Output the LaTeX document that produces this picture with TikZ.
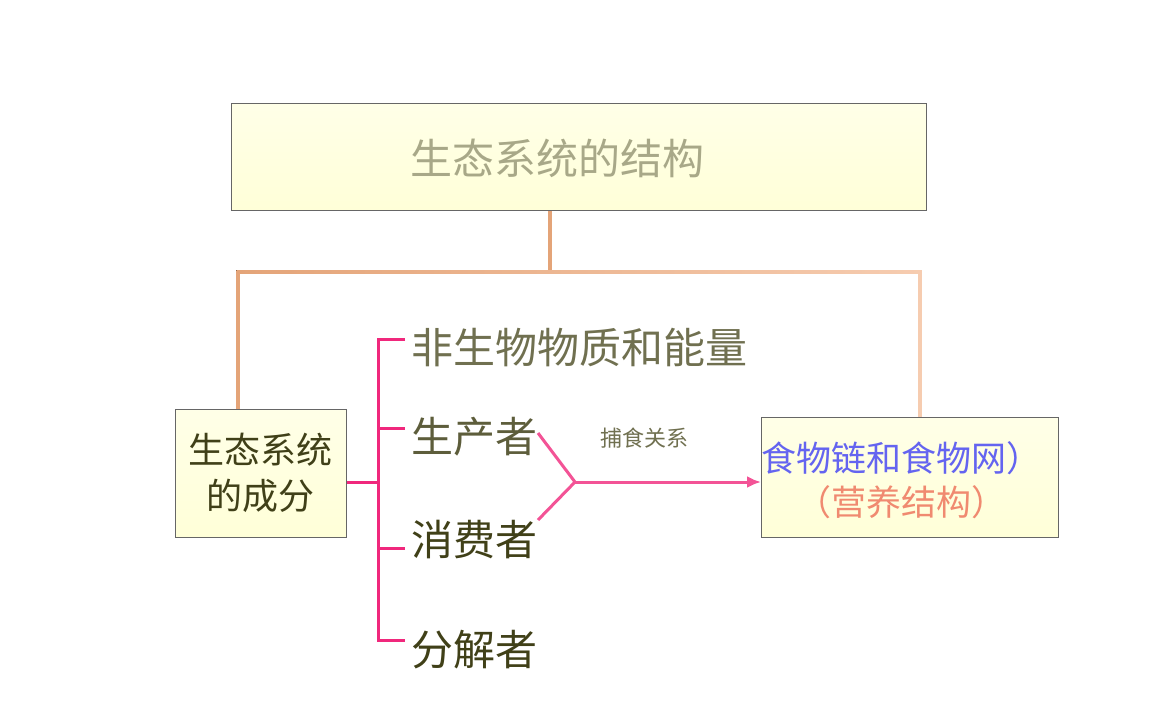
\documentclass[tikz,border=0pt]{standalone}
\usetikzlibrary{arrows.meta}
\usepackage{fontspec}
\newfontfamily\cjk{Noto Sans CJK SC}
\definecolor{boxfill}{HTML}{FFFFD8}
\definecolor{titlec}{HTML}{A8A888}
\definecolor{olive}{HTML}{404018}
\definecolor{olivel}{HTML}{707050}
\definecolor{orl}{HTML}{E4A478}
\definecolor{orr}{HTML}{F6CCB0}
\definecolor{pinkc}{HTML}{F0287C}
\definecolor{bluec}{HTML}{6464F0}
\definecolor{salm}{HTML}{F08A70}
\begin{document}
\begin{tikzpicture}[x=1pt,y=-1pt,
  box/.style={draw=black!60,line width=0.6pt,top color=white!40!boxfill,bottom color=boxfill,inner sep=0},
  lbl/.style={font=\cjk\fontsize{42}{46}\selectfont,anchor=west,inner sep=0},
  br/.style={draw=pinkc,line width=3pt},
  ob/.style={line width=3.5pt}]
\useasboundingbox (0,0) rectangle (1152,720);
\node[box,minimum width=695pt,minimum height=107pt,anchor=north west] (top) at (231,103) {};
\node[font=\cjk\fontsize{42}{46}\selectfont,text=titlec] at (557,158) {生态系统的结构};
\node[box,minimum width=171pt,minimum height=128pt,anchor=north west] (comp) at (175,409) {};
\node[font=\cjk\fontsize{36}{46}\selectfont,text=olive,align=center] at (comp.center) {生态系统\\的成分};
\node[box,minimum width=297pt,minimum height=120pt,anchor=north west] (web) at (761,417) {};
\node[font=\cjk\fontsize{35}{40}\selectfont,text=bluec,anchor=west,inner sep=0] at (761,458) {食物链和食物网）};
\node[font=\cjk\fontsize{35}{40}\selectfont,text=salm,anchor=west,inner sep=0] at (796,502) {（营养结构）};
\coordinate (j) at (550,272);
\coordinate (jl) at (238,272);
\coordinate (jr) at (920,272);
\draw[ob,orl] (top.south -| j) -- (j);
\fill[left color=orl,right color=orr] (236.25,270.25) rectangle (921.75,273.75);
\draw[ob,orl] (jl) -- (jl |- comp.north);
\draw[ob,orr] (jr) -- (jr |- web.north);
\node[lbl,text=olivel] (a) at (411,347) {非生物物质和能量};
\node[lbl,text=olive!85!white] (b) at (411,437) {生产者};
\node[lbl,text=olive] (c) at (411,540) {消费者};
\node[lbl,text=olive] (d) at (411,650) {分解者};
\coordinate (v) at (378,482);
\draw[br] (comp.east |- v) -- (v);
\draw[br] (405,339) -- (378,339) -- (378,640) -- (405,640);
\draw[br] (378,428) -- (405,428);
\draw[br] (378,548) -- (405,548);
\coordinate (m) at (575,482);
\draw[br,draw=pinkc!80!white] (538,433) -- (m) -- (538,520);
\draw[br,draw=pinkc!80!white,-{Latex[length=14pt,width=12pt]}] (m) -- (web.west |- m);
\node[font=\cjk\fontsize{22}{26}\selectfont,text=olivel] at (644,438) {捕食关系};
\end{tikzpicture}
\end{document}
